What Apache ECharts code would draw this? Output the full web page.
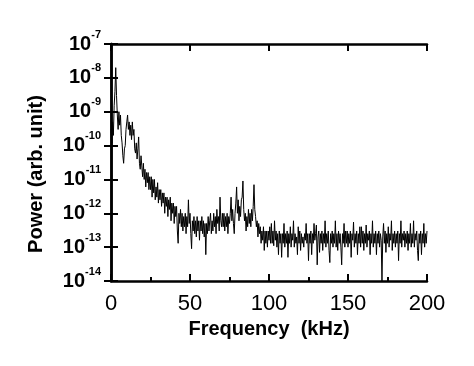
<!DOCTYPE html>
<html>
<head>
<meta charset="utf-8">
<script src="https://cdn.jsdelivr.net/npm/echarts@6/dist/echarts.min.js"></script>
<style>html,body{margin:0;padding:0;background:#fff}#chart{width:474px;height:366px}</style>
</head>
<body>
<div id="chart"></div>
<script>
// Frequency (kHz)
const freq = [
0,0.5,1,1.5,2,2.5,3,3.5,4,4.5,5,5.5,6,6.5,7,7.5,8,8.5,9,9.5,
10,10.5,11,11.5,12,12.5,13,13.5,14,14.5,15,15.5,16,16.5,17,17.5,18,18.5,19,19.5,
20,20.5,21,21.5,22,22.5,23,23.5,24,24.5,25,25.5,26,26.5,27,27.5,28,28.5,29,29.5,
30,30.5,31,31.5,32,32.5,33,33.5,34,34.5,35,35.5,36,36.5,37,37.5,38,38.5,39,39.5,
40,40.5,41,41.5,42,42.5,43,43.5,44,44.5,45,45.5,46,46.5,47,47.5,48,48.5,49,49.5,
50,50.5,51,51.5,52,52.5,53,53.5,54,54.5,55,55.5,56,56.5,57,57.5,58,58.5,59,59.5,
60,60.5,61,61.5,62,62.5,63,63.5,64,64.5,65,65.5,66,66.5,67,67.5,68,68.5,69,69.5,
70,70.5,71,71.5,72,72.5,73,73.5,74,74.5,75,75.5,76,76.5,77,77.5,78,78.5,79,79.5,
80,80.5,81,81.5,82,82.5,83,83.5,84,84.5,85,85.5,86,86.5,87,87.5,88,88.5,89,89.5,
90,90.5,91,91.5,92,92.5,93,93.5,94,94.5,95,95.5,96,96.5,97,97.5,98,98.5,99,99.5,
100,100.5,101,101.5,102,102.5,103,103.5,104,104.5,105,105.5,106,106.5,107,107.5,108,108.5,109,109.5,
110,110.5,111,111.5,112,112.5,113,113.5,114,114.5,115,115.5,116,116.5,117,117.5,118,118.5,119,119.5,
120,120.5,121,121.5,122,122.5,123,123.5,124,124.5,125,125.5,126,126.5,127,127.5,128,128.5,129,129.5,
130,130.5,131,131.5,132,132.5,133,133.5,134,134.5,135,135.5,136,136.5,137,137.5,138,138.5,139,139.5,
140,140.5,141,141.5,142,142.5,143,143.5,144,144.5,145,145.5,146,146.5,147,147.5,148,148.5,149,149.5,
150,150.5,151,151.5,152,152.5,153,153.5,154,154.5,155,155.5,156,156.5,157,157.5,158,158.5,159,159.5,
160,160.5,161,161.5,162,162.5,163,163.5,164,164.5,165,165.5,166,166.5,167,167.5,168,168.5,169,169.5,
170,170.5,171,171.5,172,172.5,173,173.5,174,174.5,175,175.5,176,176.5,177,177.5,178,178.5,179,179.5,
180,180.5,181,181.5,182,182.5,183,183.5,184,184.5,185,185.5,186,186.5,187,187.5,188,188.5,189,189.5,
190,190.5,191,191.5,192,192.5,193,193.5,194,194.5,195,195.5,196,196.5,197,197.5,198,198.5,199,199.5,
200
];
// Power (arb. unit), one row per 10 kHz
const power = [
3e-10,1.2e-10,5e-10,2e-10,1.5e-9,4e-9,2e-8,3e-9,8e-10,3e-10,1e-9,4e-10,8e-10,2e-10,1.2e-10,5e-11,3e-11,8e-11,1e-10,3e-10,
5e-10,8e-10,3e-10,5e-10,2e-10,4e-10,1.5e-10,5e-10,2e-10,3e-10,8e-11,6e-11,1.2e-10,4e-11,8e-11,1.8e-10,3e-11,2e-11,5e-11,2.5e-11,
1.2e-11,3e-11,1e-11,2e-11,6e-12,1.6e-11,8e-12,1.6e-11,5e-12,1.2e-11,5e-12,1.2e-11,3e-12,1e-11,4e-12,1e-11,2.5e-12,6e-12,3e-12,8e-12,
2e-12,5e-12,2.5e-12,5e-12,1.6e-12,4e-12,2e-12,4e-12,1e-12,3e-12,1.6e-12,3e-12,8e-13,2.5e-12,1.3e-12,3e-12,6e-13,2e-12,1e-12,2e-12,
5e-13,1.6e-12,8e-13,1.6e-12,3e-13,1.3e-13,1e-12,5e-13,1.3e-12,4e-13,1e-12,3e-13,8e-13,4e-13,1e-12,2.5e-13,8e-13,4e-13,2.5e-12,5e-13,
1e-12,2.5e-13,9e-14,6e-13,3e-13,8e-13,2.5e-13,6e-13,2e-13,8e-13,3e-13,6e-13,1.6e-13,6e-13,3e-13,8e-13,2.5e-13,6e-13,2e-13,5e-13,
6e-14,5e-13,2.5e-13,8e-13,3e-13,6e-13,1e-12,2.5e-13,6e-13,3e-13,1e-12,4e-13,8e-13,2.5e-13,1.3e-12,5e-13,8e-13,3e-13,3e-12,6e-13,
4e-13,1e-12,4e-13,1e-12,3e-13,8e-13,4e-13,1e-12,2.5e-13,8e-13,5e-13,1e-12,3e-12,6e-13,1.3e-12,5e-13,2.5e-13,1e-12,2e-12,6e-12,
1e-12,2.5e-12,6e-13,1.6e-12,8e-13,2.5e-12,3e-12,9e-12,1.3e-12,6e-13,1e-12,3e-13,8e-13,4e-13,1.3e-12,5e-13,1e-12,4e-13,1.3e-12,6e-13,
1.6e-12,7e-12,1.3e-12,8e-13,4e-13,6e-13,2e-13,5e-13,2.5e-13,4e-13,1.3e-13,3e-13,1.6e-13,4e-13,8e-14,3e-13,1.3e-13,3e-13,1e-13,3e-13,
1.6e-13,4e-13,1.3e-13,5e-13,1.3e-13,3e-13,1.1e-13,6e-13,1.6e-13,3e-13,1e-13,2.5e-13,6e-14,3e-13,1.3e-13,2.5e-13,5e-14,2.5e-13,1.3e-13,5e-13,
1e-13,2.5e-13,1.3e-13,3e-13,5e-14,2.5e-13,1.3e-13,4e-13,1e-13,2.5e-13,1.6e-13,6e-13,1e-13,2.5e-13,1.3e-13,2e-13,6e-14,4e-13,1.3e-13,3e-13,
8e-14,2.5e-13,1.3e-13,2e-13,1e-13,2.5e-13,1.6e-13,5e-13,1.3e-13,2.5e-13,4e-14,2.5e-13,1.3e-13,3e-13,6e-14,2.5e-13,1.3e-13,5e-13,1.6e-13,2.5e-13,
4.5e-13,3e-14,2e-13,3e-13,7e-14,2.5e-13,1.3e-13,3e-13,8e-14,2.5e-13,1.3e-13,6e-13,1e-13,2.5e-13,1.3e-13,3e-13,8e-14,3.5e-14,2.5e-13,1.3e-13,
3e-13,1e-13,2.5e-13,1.3e-13,6e-13,1e-13,2.5e-13,8e-14,3e-13,1.3e-13,2.5e-13,1e-13,3e-14,2.5e-13,1.3e-13,5e-13,1e-13,3e-13,1.3e-13,3e-13,
1e-13,2.5e-13,1.3e-13,3e-13,5e-14,2.5e-13,1.6e-13,5.5e-13,1e-13,2.5e-13,1.3e-13,3e-13,6e-14,2.5e-13,1.3e-13,4e-13,1e-13,4e-13,1.3e-13,3e-13,
8e-14,2.5e-13,1.3e-13,4.5e-13,1e-13,2.5e-13,1.6e-13,3e-13,6e-14,2.5e-13,1.3e-13,6e-13,1e-13,2.5e-13,1.3e-13,3e-13,6e-14,2.5e-13,1.3e-13,3e-13,
1e-13,2.5e-13,1.6e-13,1e-14,2e-13,5e-13,1.3e-13,3e-13,7e-14,2.5e-13,1.3e-13,4e-13,1e-13,2.5e-13,1.6e-13,6e-13,8e-14,2.5e-13,1.3e-13,3e-13,
1e-13,2.5e-13,1.3e-13,3e-13,4e-14,2.5e-13,1.3e-13,6e-13,1e-13,2.5e-13,1.6e-13,3e-13,1e-13,2.5e-13,1.3e-13,3e-13,8e-14,2.5e-13,1.3e-13,5e-13,
1e-13,2.5e-13,1.3e-13,6e-13,1e-13,2.5e-13,1.6e-13,3e-13,8e-14,4e-14,2.5e-13,1.3e-13,3e-13,6e-14,2.5e-13,1.3e-13,5e-13,1e-13,2.5e-13,1.3e-13,
3e-13
];
const xTicks = [0, 50, 100, 150, 200];
const yRange = [1e-14, 1e-7];

const FONT = '"Liberation Sans", Arial, sans-serif';
const chart = echarts.init(document.getElementById('chart'), null, {renderer: 'canvas'});
const data = power.map((p, i) => [freq[i], p]);

const axisLine = {show: true, lineStyle: {color: '#000', width: 2.5}};
const tickStyle = {color: '#000', width: 2};

chart.setOption({
  animation: false,
  backgroundColor: '#fff',
  grid: {left: 111, right: 47, top: 44, bottom: 85, containLabel: false},
  xAxis: [{
    type: 'value', position: 'bottom',
    min: xTicks[0], max: xTicks[xTicks.length - 1], interval: 50,
    axisLine: axisLine,
    axisTick: {show: true, inside: true, length: 7, lineStyle: tickStyle},
    minorTick: {show: true, splitNumber: 2, length: 4, lineStyle: tickStyle},
    splitLine: {show: false},
    axisLabel: {margin: 12, fontSize: 22, color: '#000', fontFamily: FONT},
    name: 'Frequency  (kHz)', nameLocation: 'middle', nameGap: 37,
    nameTextStyle: {fontSize: 20, fontWeight: 'bold', color: '#000', fontFamily: FONT}
  }, {
    type: 'value', position: 'top',
    min: xTicks[0], max: xTicks[xTicks.length - 1], interval: 50,
    axisLine: axisLine,
    axisTick: {show: true, inside: true, length: 7, lineStyle: tickStyle},
    splitLine: {show: false},
    axisLabel: {show: false}
  }],
  yAxis: [{
    type: 'log', logBase: 10, position: 'left',
    min: yRange[0], max: yRange[1], interval: 1,
    axisLine: axisLine,
    axisTick: {show: true, inside: true, length: 7, lineStyle: tickStyle},
    minorTick: {show: false},
    splitLine: {show: false},
    axisLabel: {
      margin: 10,
      formatter: function (v) {
        const e = Math.round(Math.log10(v));
        return '{a|10}{b|' + e + '}';
      },
      rich: {
        a: {fontSize: 20, fontWeight: 'bold', color: '#000', fontFamily: FONT, lineHeight: 30},
        b: {fontSize: 11, fontWeight: 'bold', color: '#000', fontFamily: FONT, lineHeight: 12, verticalAlign: 'top'}
      }
    }
  }, {
    type: 'log', logBase: 10, position: 'right',
    min: yRange[0], max: yRange[1], interval: 1,
    axisLine: axisLine,
    axisTick: {show: true, inside: true, length: 7, lineStyle: tickStyle},
    splitLine: {show: false},
    axisLabel: {show: false}
  }],
  graphic: [{
    type: 'text', x: 36, y: 174, rotation: Math.PI / 2,
    style: {text: 'Power (arb. unit)', font: 'bold 20px ' + FONT, fill: '#000', align: 'center', verticalAlign: 'middle'}
  }],
  series: [{
    type: 'line', xAxisIndex: 0, yAxisIndex: 0,
    data: data, showSymbol: false, symbol: 'none',
    lineStyle: {color: '#000', width: 1},
    clip: true
  }]
});
</script>
</body>
</html>
